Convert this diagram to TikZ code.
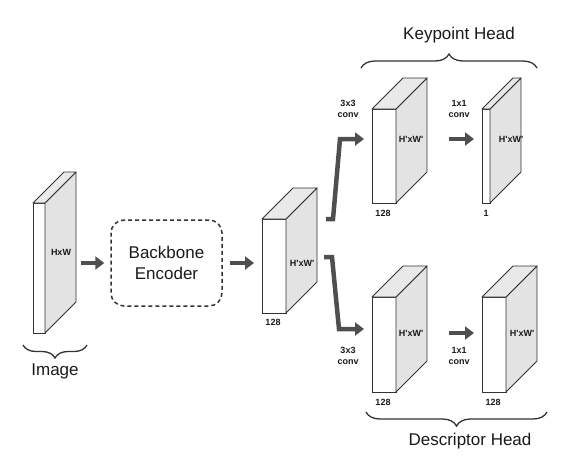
\documentclass[tikz,border=0pt]{standalone}
\usepackage{fontspec}
\setmainfont{Liberation Sans}
\usetikzlibrary{arrows.meta,decorations.pathreplacing}
\definecolor{edgec}{HTML}{333333}
\definecolor{sidegray}{HTML}{E3E3E3}
\definecolor{topgray}{HTML}{E9E9E9}
\definecolor{arrowgray}{HTML}{4F4F4F}
\definecolor{textc}{HTML}{1A1A1A}
\tikzset{
  front/.style={draw=edgec, fill=white, line width=0.9pt, inner sep=0pt, outer sep=0pt, anchor=north west},
  facestyle/.style={draw=edgec, line width=0.9pt, line join=round},
  small/.style={text=textc, font=\fontsize{9}{11}\selectfont\bfseries, align=center, inner sep=0pt},
  big/.style={text=textc, font=\fontsize{17}{21}\selectfont, align=center, inner sep=0pt},
  bigarrow/.style={draw=arrowgray, line width=4.5pt, -{Triangle[length=9pt,width=13pt]}},
  bentarrow/.style={bigarrow, line join=miter},
  bracestyle/.style={draw=edgec, line width=1.3pt, decorate},
  dashbox/.style={draw=edgec, line width=1.5pt, dash pattern=on 4pt off 3pt, rounded corners=13pt, minimum width=111pt, minimum height=86pt, inner sep=0pt}
}
\newcommand\featblock[6]{%
  \node[front, minimum width={(#3-#2)*1pt}, minimum height={(#5-#4)*1pt}] (#1) at (#2,#4) {};
  \filldraw[facestyle, fill=sidegray] (#1.north east) -- ++(#6,-#6) -- ++(0,{#5-#4}) -- (#1.south east) -- cycle;
  \filldraw[facestyle, fill=topgray] (#1.north west) -- ++(#6,-#6) -- ++({#3-#2},0) -- (#1.north east) -- cycle;
}
\begin{document}
\begin{tikzpicture}[x=1pt,y=-1pt]
\useasboundingbox (0,0) rectangle (561,459);
% blocks
\featblock{img}{33}{45}{203}{333}{31}
\featblock{mid}{262}{286}{219}{313}{31}
\featblock{kpa}{372}{396}{109}{203}{31}
\featblock{kpb}{482}{490}{109}{203}{31}
\featblock{dsa}{372}{396}{297}{392}{31}
\featblock{dsb}{482}{506}{297}{392}{31}
% block labels
\node[small] (limg) at (61,252) {HxW};
\node[small] (lmid) at (302,263) {H\textquotesingle xW\textquotesingle};
\node[small] (lkpa) at (411,139) {H\textquotesingle xW\textquotesingle};
\node[small] (lkpb) at (511,139) {H\textquotesingle xW\textquotesingle};
\node[small] (ldsa) at (411,333) {H\textquotesingle xW\textquotesingle};
\node[small] (ldsb) at (522,333) {H\textquotesingle xW\textquotesingle};
\node[small] (cmid) at (273,322) {128};
\node[small] (ckpa) at (383,213) {128};
\node[small] (ckpb) at (486,213) {1};
\node[small] (cdsa) at (383,402) {128};
\node[small] (cdsb) at (493,402) {128};
% conv labels
\node[small] (ckpconv3) at (348,108.5) {3x3\\conv};
\node[small] (ckpconv1) at (459,108.5) {1x1\\conv};
\node[small] (cdsconv3) at (348,355.5) {3x3\\conv};
\node[small] (cdsconv1) at (459,355.5) {1x1\\conv};
% backbone
\node[dashbox] (bb) at (166.5,263) {};
\node[big] (bbtext) at (166.5,262.5) {Backbone\\Encoder};
% arrows
\coordinate (a1s) at (81,263);
\coordinate (a2s) at (230,263);
\coordinate (a2e) at (254,263);
\draw[bigarrow] (a1s) -- ([xshift=-6pt]bb.west |- a1s);
\draw[bigarrow] (a2s) -- (a2e);
\coordinate (ta) at (326,219);
\coordinate (tb) at (333,219);
\coordinate (tc) at (340,139);
\coordinate (td) at (364,139);
\draw[bentarrow] (ta) -- (tb) -- (tc) -- (td);
\coordinate (ba) at (324,257);
\coordinate (bbend) at (332,257);
\coordinate (bc) at (339,329);
\coordinate (bd) at (364,329);
\draw[bentarrow] (ba) -- (bbend) -- (bc) -- (bd);
\coordinate (k1s) at (449,139);
\coordinate (k1e) at (474,139);
\draw[bigarrow] (k1s) -- (k1e);
\coordinate (d1s) at (449,333);
\coordinate (d1e) at (474,333);
\draw[bigarrow] (d1s) -- (d1e);
% braces
\draw[bracestyle, decoration={brace, amplitude=13pt}] (87,345) -- (23,345);
\node[big] (timg) at (55,371) {Image};
\draw[bracestyle, decoration={brace, amplitude=14pt}] (361,68) -- (537,68);
\node[big] (tkp) at (459,35) {Keypoint Head};
\draw[bracestyle, decoration={brace, amplitude=14pt}] (547,412) -- (366,412);
\node[big] (tds) at (470,441) {Descriptor Head};
\end{tikzpicture}
\end{document}
